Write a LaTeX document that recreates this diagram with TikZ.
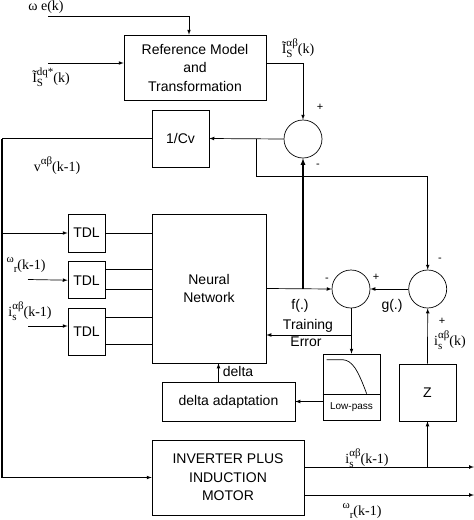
\documentclass[tikz,border=0pt]{standalone}
\usepackage{fontspec}
\setmainfont{Liberation Sans}
\newfontfamily\serif{Liberation Serif}
\usetikzlibrary{positioning}
\newcommand\sups[1]{\raisebox{0.5em}{\fontsize{11}{11}\selectfont #1}}
\newcommand\subs[1]{\raisebox{-0.25em}{\fontsize{11}{11}\selectfont #1}}
\newcommand\supsub[2]{\rlap{\subs{#2}}\sups{#1}}

\begin{document}
\begin{tikzpicture}[x=1pt, y=-1pt, >=latex, line width=0.7pt,
  font=\fontsize{14}{18.5}\selectfont,
  every node/.style={align=center},
  blk/.style={draw, inner sep=0pt},
  sumc/.style={draw, circle, minimum size=38pt, inner sep=0pt},
  lbl/.style={draw=none, inner sep=0pt, font=\fontsize{14}{16}\selectfont\serif},
  sgn/.style={draw=none, inner sep=0pt, font=\fontsize{11}{13}\selectfont}]

\useasboundingbox (0,0) rectangle (474,520);

% Blocks
\node[blk, minimum width=142pt, minimum height=65pt] at (195,67.5) (ref) {Reference Model\\and\\Transformation};
\node[blk, minimum width=57pt, minimum height=57pt] at (180.5,138.5) (cv) {1/Cv};
\node[sumc] at (303,139) (s1) {};

\node[blk, minimum width=37pt, minimum height=38pt] at (86.5,233) (tdl1) {TDL};
\node[blk, minimum width=37pt, minimum height=37pt, below=9pt of tdl1] (tdl2) {TDL};
\node[blk, minimum width=37pt, minimum height=47pt, below=9pt of tdl2] (tdl3) {TDL};
\node[blk, minimum width=114pt, minimum height=149pt] at (209,288.5) (nn) {Neural\\Network};

\node[sumc] at (351,289) (s2) {};
\node[sumc, right=38pt of s2] (s3) {};

\node[blk, minimum width=57pt, minimum height=66pt] at (351.5,387) (lp) {};
\node[blk, minimum width=57pt, minimum height=57pt] at (427.5,392.5) (z) {Z};
\node[blk, minimum width=133pt, minimum height=39pt] at (228.5,401.5) (da) {delta adaptation};
\node[blk, minimum width=152pt, minimum height=75pt] at (228,477.5) (inv) {INVERTER PLUS\\INDUCTION\\MOTOR};

% Low-pass inset
\draw (lp.west |- 0,394) -- (lp.east |- 0,394);
\draw ([shift={(4,6)}]lp.north west) -- ([shift={(20,6)}]lp.north west)
  .. controls ([shift={(30,7)}]lp.north west) and ([shift={(35,16)}]lp.north west) .. ([shift={(44,40)}]lp.north west);
\node[draw=none, inner sep=0pt, font=\fontsize{10}{12}\selectfont] at ([yshift=13pt]lp.south) (lptxt) {Low-pass};

% Free ends
\coordinate (we) at (48,16);
\coordinate (idq) at (48,63);
\coordinate (lft) at (2,138.5);
\coordinate (br) at (256,138.5);
\coordinate (wr) at (28,279.5);
\coordinate (isin) at (28,326);
\coordinate (o1) at (474,467);
\coordinate (o2) at (474,495);

% Connectors
\draw[->] (we) -| ([xshift=-6pt]ref.north);
\draw[->] (idq) -- (idq -| ref.west);
\draw[->] (ref.east |- idq) -| (s1.north);
\draw[->] (s1.west) -- (cv.east);
\draw (cv.west) -- (lft);
\draw[line width=1.4pt] (lft) -- (lft |- inv.west);
\draw[->] (lft |- inv.west) -- (inv.west);
\draw[->] (lft |- tdl1.west) -- (tdl1.west);
\draw[->] (br) -- (br |- 0,176) -| (s3.north);
\draw[->, line width=1.2pt] (s1 |- nn.east) -- (s1.south);

\draw[->] (wr) -- (tdl2.west);
\draw[->] (isin) -- (isin -| tdl3.west);
\draw (tdl1.east) -- (nn.west |- tdl1.east);
\draw (tdl2.east |- 0,269) -- (nn.west |- 0,269);
\draw (tdl2.east |- 0,289) -- (nn.west |- 0,289);
\draw (tdl3.east |- 0,317) -- (nn.west |- 0,317);
\draw (tdl3.east |- 0,344) -- (nn.west |- 0,344);

\draw[->] (nn.east) -- (s2.west);
\draw[->] (s3.west) -- (s2.east);
\coordinate (te) at (s2 |- 0,335);
\draw[->] (s2.south) -- (te) -- (te -| lp.north) -- (lp.north);
\draw[->] (te) -- (te -| nn.east);
\draw[->] (lp.west |- da.east) -- (da.east);
\draw[->] ([xshift=-10pt]da.north) -- ([xshift=-10pt]da.north |- nn.south);
\draw[->] (z.north) -- (s3.south);

\draw[->] (inv.east |- o1) -- (o1);
\draw[->] (inv.east |- o2) -- (o2);
\draw[->] (z |- o1) -- (z.south);

% Labels
\node[lbl] at (46,7) (lwe) {ω e(k)};
\node[lbl] at (51,77) (lidq) {Ĩ\supsub{dq*}{S}(k)};
\node[lbl] at (298,48) (liab) {Ĩ\supsub{αβ}{S}(k)};
\node[lbl] at (57,166) (lv) {v\sups{αβ}(k-1)};
\node[lbl] at (26,265) (lwr) {\sups{ω}\subs{r}(k-1)};
\node[lbl] at (30,311) (lis) {i\supsub{αβ}{s}(k-1)};
\node[lbl] at (450,340) (lisk) {i\supsub{αβ}{s}(k)};
\node[lbl] at (367,458) (lout1) {i\supsub{αβ}{s}(k-1)};
\node[lbl] at (362,511) (lout2) {\sups{ω}\subs{r}(k-1)};

\node[draw=none, inner sep=0pt] at (300,306) (lf) {f(.)};
\node[draw=none, inner sep=0pt] at (392,306) (lg) {g(.)};
\node[draw=none, inner sep=0pt, anchor=south] at (308,333) (ltr) {Training};
\node[draw=none, inner sep=0pt, anchor=north] at (306,337) (ler) {Error};
\node[draw=none, inner sep=0pt, anchor=west] at ([xshift=-6pt, yshift=10pt]da.north) (ldel) {delta};

% Signs
\node[sgn] at (320,107) {+};
\node[sgn] at (318,166) {-};
\node[sgn] at (327,280) {-};
\node[sgn] at (376,277) {+};
\node[sgn] at (440,260) {-};
\node[sgn] at (442,321) {+};

\end{tikzpicture}
\end{document}
